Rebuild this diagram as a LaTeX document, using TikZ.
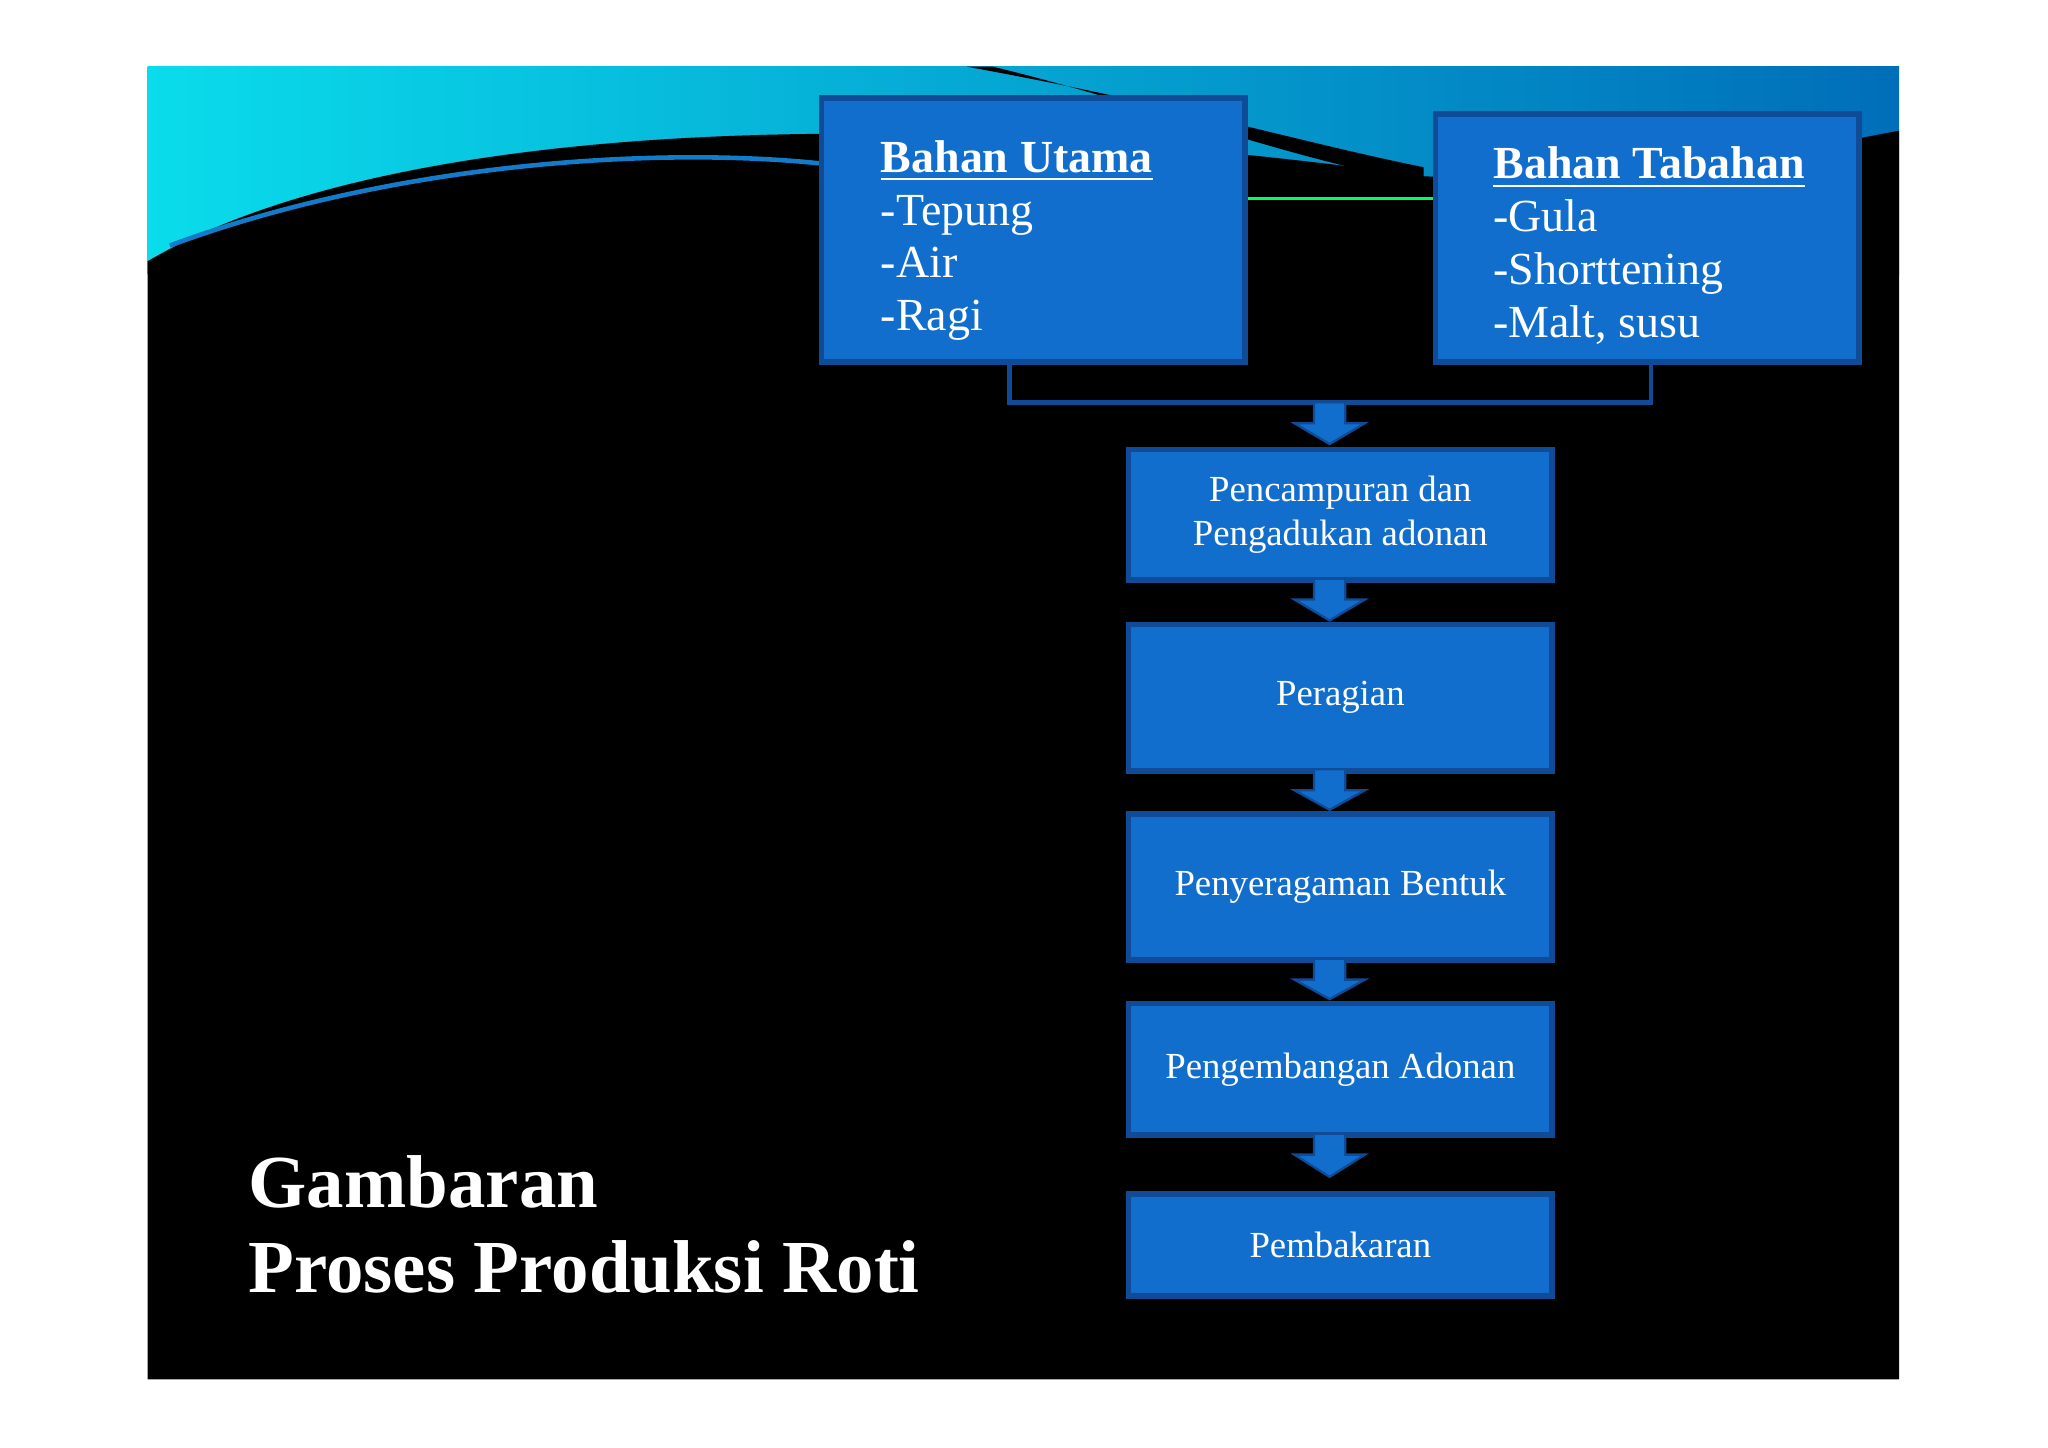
\documentclass[tikz,border=0pt]{standalone}
\usepackage{fontspec}
\setmainfont{Liberation Serif}
\definecolor{boxblue}{RGB}{18,110,205}
\definecolor{boxedge}{RGB}{15,75,150}
\definecolor{topl}{RGB}{10,220,235}
\definecolor{topr}{RGB}{0,110,185}
\tikzset{
 proc/.style={draw=boxedge,line width=1.2pt,fill=boxblue,text=white,minimum width=3.24cm,align=center,font=\fontsize{8}{9.5}\selectfont,inner sep=0pt},
 inbox/.style={draw=boxedge,line width=1.2pt,fill=boxblue,text=white,minimum width=3.24cm,inner sep=0pt},
 barrow/.style={fill=boxblue,draw=boxedge,line width=0.5pt}
}
\newcommand{\blockarrow}[2]{\filldraw[barrow] (1006,#1) -- (1030,#1) -- (1030,#1+16) -- (1045,#1+16) -- (1018,#2) -- (991,#1+16) -- (1006,#1+16) -- cycle;}
\begin{document}
\begin{tikzpicture}[x=0.01cm,y=-0.01cm]
\useasboundingbox[fill=white] (0,0) rectangle (1568,1108);
\shade[left color=topl,right color=topr] (113,51) rectangle (1454,210);
\fill[black] (113,200) .. controls (300,90) and (700,80) .. (1090,135) .. controls (1250,140) and (1350,120) .. (1454,100) -- (1454,1056) -- (113,1056) -- cycle;
\fill[black] (740,51) .. controls (900,80) and (1000,110) .. (1090,128) -- (1090,140) .. controls (980,120) and (880,80) .. (760,51) -- cycle;
\draw[cyan!60!blue,line width=1pt] (130,188) .. controls (300,125) and (500,112) .. (627,125);
\draw[green!60!cyan,line width=0.6pt] (951,152) -- (1097,152);
% input boxes
\node[inbox,minimum height=2.02cm,anchor=north west] (bu) at (627,73) {};
\node[text=white,anchor=north west,align=left,font=\fontsize{10}{11.5}\selectfont] (but) at (662,95) {\textbf{\underline{Bahan Utama}}\\-Tepung\\-Air\\-Ragi};
\node[inbox,minimum height=1.90cm,anchor=north west] (bt) at (1097,85) {};
\node[text=white,anchor=north west,align=left,font=\fontsize{10}{11.5}\selectfont] (btt) at (1131,100) {\textbf{\underline{Bahan Tabahan}}\\-Gula\\-Shorttening\\-Malt, susu};
\coordinate (j1) at (773,308);
\coordinate (j2) at (1264,308);
\draw[boxedge,line width=1pt] (773,275) -- (j1) -- (j2) -- (1264,275);
% process boxes
\node[proc,minimum height=1.00cm,anchor=north west] (p1) at (862,342) {Pencampuran dan\\Pengadukan adonan};
\node[proc,minimum height=1.12cm,anchor=north west] (p2) at (862,476) {Peragian};
\node[proc,minimum height=1.12cm,anchor=north west] (p3) at (862,621) {Penyeragaman Bentuk};
\node[proc,minimum height=1.01cm,anchor=north west] (p4) at (862,766) {Pengembangan Adonan};
\node[proc,minimum height=0.78cm,anchor=north west] (p5) at (862,912) {Pembakaran};
\blockarrow{308}{340}
\blockarrow{443}{475}
\blockarrow{589}{620}
\blockarrow{734}{765}
\blockarrow{868}{901}
\node[text=white,anchor=north west,align=left,font=\bfseries\fontsize{16.3}{18.5}\selectfont] (title) at (178,872) {Gambaran\\Proses Produksi Roti};
\end{tikzpicture}
\end{document}
